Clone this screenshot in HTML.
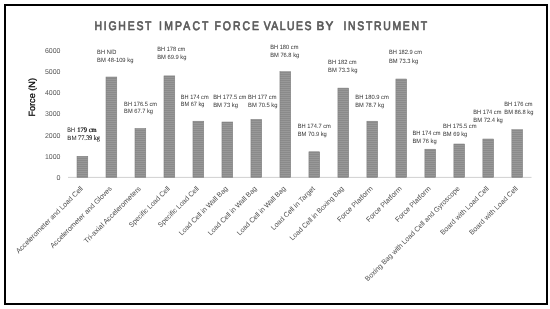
<!DOCTYPE html>
<html><head><meta charset="utf-8"><title>Highest impact force values by instrument</title>
<style>
html,body{margin:0;padding:0;background:#fff;}
body{width:550px;height:309px;overflow:hidden;}
svg{display:block;font-family:"Liberation Sans",sans-serif;text-rendering:geometricPrecision;}
.tk{font-size:7.1px;fill:#555;}
.dl{font-size:6.1px;fill:#333;}
.cl{font-size:7.15px;fill:#505050;}
</style></head><body>
<svg width="550" height="309" viewBox="0 0 550 309">
<defs>
<pattern id="st" x="0" y="0" width="4" height="2" patternUnits="userSpaceOnUse">
<rect x="0" y="0" width="4" height="2" fill="#989898"/>
<rect x="0" y="0" width="4" height="1" fill="#8a8a8a"/>
</pattern>
</defs>
<rect x="0" y="0" width="550" height="309" fill="#fff"/>
<rect x="5" y="5" width="542" height="299" fill="#fff" stroke="#000" stroke-width="2"/>
<g font-size="12.3" fill="#595959" stroke="#595959" stroke-width="0.7" stroke-linejoin="round">
<text transform="translate(94.4 29.65) scale(0.85 1)" textLength="67.2" lengthAdjust="spacing">HIGHEST</text>
<text transform="translate(159.1 29.65) scale(0.85 1)" textLength="58.1" lengthAdjust="spacing">IMPACT</text>
<text transform="translate(214.4 29.65) scale(0.85 1)" textLength="52.5" lengthAdjust="spacing">FORCE</text>
<text transform="translate(263.7 29.65) scale(0.85 1)" textLength="56.2" lengthAdjust="spacing">VALUES</text>
<text transform="translate(316.5 29.65) scale(0.95 1)" textLength="17.6" lengthAdjust="spacing">BY</text>
<text transform="translate(343.4 29.65) scale(0.85 1)" textLength="98.5" lengthAdjust="spacing">INSTRUMENT</text>
</g>
<text transform="translate(35.1 116.6) rotate(-90)" font-size="9" fill="#000" stroke="#000" stroke-width="0.25" textLength="38.6" lengthAdjust="spacingAndGlyphs">Force (N)</text>
<text class="tk" x="60.4" y="180.20" text-anchor="end">0</text>
<text class="tk" x="44.9" y="158.95" textLength="15.5" lengthAdjust="spacingAndGlyphs">1000</text>
<text class="tk" x="44.9" y="137.70" textLength="15.5" lengthAdjust="spacingAndGlyphs">2000</text>
<text class="tk" x="44.9" y="116.45" textLength="15.5" lengthAdjust="spacingAndGlyphs">3000</text>
<text class="tk" x="44.9" y="95.20" textLength="15.5" lengthAdjust="spacingAndGlyphs">4000</text>
<text class="tk" x="44.9" y="73.95" textLength="15.5" lengthAdjust="spacingAndGlyphs">5000</text>
<text class="tk" x="44.9" y="52.70" textLength="15.5" lengthAdjust="spacingAndGlyphs">6000</text>
<line x1="68" y1="177.4" x2="531.5" y2="177.4" stroke="#c4c4c4" stroke-width="0.8"/>
<rect x="77.00" y="156.3" width="10.8" height="21.1" fill="url(#st)" stroke="#787878" stroke-width="0.5"/>
<rect x="105.99" y="77.0" width="10.8" height="100.4" fill="url(#st)" stroke="#787878" stroke-width="0.5"/>
<rect x="134.98" y="128.5" width="10.8" height="48.9" fill="url(#st)" stroke="#787878" stroke-width="0.5"/>
<rect x="163.97" y="75.9" width="10.8" height="101.5" fill="url(#st)" stroke="#787878" stroke-width="0.5"/>
<rect x="192.96" y="121.2" width="10.8" height="56.2" fill="url(#st)" stroke="#787878" stroke-width="0.5"/>
<rect x="221.95" y="122.0" width="10.8" height="55.4" fill="url(#st)" stroke="#787878" stroke-width="0.5"/>
<rect x="250.94" y="119.4" width="10.8" height="58.0" fill="url(#st)" stroke="#787878" stroke-width="0.5"/>
<rect x="279.93" y="71.7" width="10.8" height="105.7" fill="url(#st)" stroke="#787878" stroke-width="0.5"/>
<rect x="308.92" y="151.8" width="10.8" height="25.6" fill="url(#st)" stroke="#787878" stroke-width="0.5"/>
<rect x="337.91" y="88.1" width="10.8" height="89.3" fill="url(#st)" stroke="#787878" stroke-width="0.5"/>
<rect x="366.90" y="121.2" width="10.8" height="56.2" fill="url(#st)" stroke="#787878" stroke-width="0.5"/>
<rect x="395.89" y="79.0" width="10.8" height="98.4" fill="url(#st)" stroke="#787878" stroke-width="0.5"/>
<rect x="424.88" y="149.2" width="10.8" height="28.2" fill="url(#st)" stroke="#787878" stroke-width="0.5"/>
<rect x="453.87" y="144.0" width="10.8" height="33.4" fill="url(#st)" stroke="#787878" stroke-width="0.5"/>
<rect x="482.86" y="139.0" width="10.8" height="38.4" fill="url(#st)" stroke="#787878" stroke-width="0.5"/>
<rect x="511.85" y="129.7" width="10.8" height="47.7" fill="url(#st)" stroke="#787878" stroke-width="0.5"/>
<text x="67.3" y="132.4" font-size="6.5" fill="#111" textLength="7.6" lengthAdjust="spacingAndGlyphs">BH</text>
<text x="77.3" y="132.4" font-family="'Liberation Serif',serif" font-size="6.9" fill="#000" stroke="#000" stroke-width="0.2" textLength="19.3" lengthAdjust="spacingAndGlyphs">179 cm</text>
<text x="67.3" y="140.0" font-size="6.3" fill="#1a1a1a" textLength="9.2" lengthAdjust="spacingAndGlyphs">BM</text>
<text x="78.1" y="140.0" font-family="'Liberation Serif',serif" font-size="7" fill="#111" stroke="#111" stroke-width="0.1" textLength="21.9" lengthAdjust="spacingAndGlyphs">77.39 kg</text>
<text class="dl" x="97.1" y="54.1" textLength="19.4" lengthAdjust="spacingAndGlyphs">BH N/D</text>
<text class="dl" x="97.1" y="61.9" textLength="36.3" lengthAdjust="spacingAndGlyphs">BM 48-109 kg</text>
<text class="dl" x="124.1" y="105.5" textLength="32.9" lengthAdjust="spacingAndGlyphs">BH 176.5 cm</text>
<text class="dl" x="124.1" y="113.4" textLength="28.8" lengthAdjust="spacingAndGlyphs">BM 67.7 kg</text>
<text class="dl" x="157.2" y="50.7" textLength="28.1" lengthAdjust="spacingAndGlyphs">BH 178 cm</text>
<text class="dl" x="157.2" y="58.6" textLength="29.3" lengthAdjust="spacingAndGlyphs">BM 69.9 kg</text>
<text class="dl" x="180.8" y="98.7" textLength="27.8" lengthAdjust="spacingAndGlyphs">BH 174 cm</text>
<text class="dl" x="180.8" y="106.3" textLength="23.5" lengthAdjust="spacingAndGlyphs">BM 67 kg</text>
<text class="dl" x="213.2" y="98.6" textLength="33.2" lengthAdjust="spacingAndGlyphs">BH 177.5 cm</text>
<text class="dl" x="213.2" y="106.6" textLength="24.8" lengthAdjust="spacingAndGlyphs">BM 73 kg</text>
<text class="dl" x="248.1" y="98.6" textLength="28.4" lengthAdjust="spacingAndGlyphs">BH 177 cm</text>
<text class="dl" x="248.1" y="106.6" textLength="29.4" lengthAdjust="spacingAndGlyphs">BM 70.5 kg</text>
<text class="dl" x="270.2" y="48.9" textLength="28.2" lengthAdjust="spacingAndGlyphs">BH 180 cm</text>
<text class="dl" x="270.2" y="57.1" textLength="29.0" lengthAdjust="spacingAndGlyphs">BM 76.8 kg</text>
<text class="dl" x="297.8" y="128.3" textLength="33.1" lengthAdjust="spacingAndGlyphs">BH 174.7 cm</text>
<text class="dl" x="297.8" y="136.1" textLength="29.0" lengthAdjust="spacingAndGlyphs">BM 70.9 kg</text>
<text class="dl" x="328.1" y="64.4" textLength="28.6" lengthAdjust="spacingAndGlyphs">BH 182 cm</text>
<text class="dl" x="328.1" y="72.0" textLength="29.4" lengthAdjust="spacingAndGlyphs">BM 73.3 kg</text>
<text class="dl" x="355.3" y="98.6" textLength="33.5" lengthAdjust="spacingAndGlyphs">BH 180.9 cm</text>
<text class="dl" x="355.3" y="106.6" textLength="28.8" lengthAdjust="spacingAndGlyphs">BM 78.7 kg</text>
<text class="dl" x="388.9" y="54.4" textLength="33.1" lengthAdjust="spacingAndGlyphs">BH 182.9 cm</text>
<text class="dl" x="388.9" y="62.6" textLength="29.3" lengthAdjust="spacingAndGlyphs">BM 73.3 kg</text>
<text class="dl" x="412.4" y="135.3" textLength="28.2" lengthAdjust="spacingAndGlyphs">BH 174 cm</text>
<text class="dl" x="412.4" y="142.8" textLength="24.2" lengthAdjust="spacingAndGlyphs">BM 76 kg</text>
<text class="dl" x="443.0" y="128.3" textLength="33.6" lengthAdjust="spacingAndGlyphs">BH 175.5 cm</text>
<text class="dl" x="443.0" y="135.6" textLength="24.3" lengthAdjust="spacingAndGlyphs">BM 69 kg</text>
<text class="dl" x="473.3" y="114.0" textLength="28.1" lengthAdjust="spacingAndGlyphs">BH 174 cm</text>
<text class="dl" x="473.3" y="122.0" textLength="29.5" lengthAdjust="spacingAndGlyphs">BM 72.4 kg</text>
<text class="dl" x="504.3" y="105.9" textLength="28.2" lengthAdjust="spacingAndGlyphs">BH 176 cm</text>
<text class="dl" x="504.3" y="114.0" textLength="29.1" lengthAdjust="spacingAndGlyphs">BM 86.8 kg</text>
<text class="cl" transform="translate(83.40 189.1) rotate(-45)" x="-91.4" y="0" textLength="91.4" lengthAdjust="spacingAndGlyphs">Accelerometer and Load Cell</text>
<text class="cl" transform="translate(112.39 189.1) rotate(-45)" x="-84.0" y="0" textLength="84.0" lengthAdjust="spacingAndGlyphs">Accelerometer and Gloves</text>
<text class="cl" transform="translate(141.38 189.1) rotate(-45)" x="-77.2" y="0" textLength="77.2" lengthAdjust="spacingAndGlyphs">Tri-axial Accelerometers</text>
<text class="cl" transform="translate(170.37 189.1) rotate(-45)" x="-54.7" y="0" textLength="54.7" lengthAdjust="spacingAndGlyphs">Specific Load Cell</text>
<text class="cl" transform="translate(199.36 189.1) rotate(-45)" x="-54.7" y="0" textLength="54.7" lengthAdjust="spacingAndGlyphs">Specific Load Cell</text>
<text class="cl" transform="translate(228.35 189.1) rotate(-45)" x="-66.0" y="0" textLength="66.0" lengthAdjust="spacingAndGlyphs">Load Cell in Wall Bag</text>
<text class="cl" transform="translate(257.34 189.1) rotate(-45)" x="-66.0" y="0" textLength="66.0" lengthAdjust="spacingAndGlyphs">Load Cell in Wall Bag</text>
<text class="cl" transform="translate(286.33 189.1) rotate(-45)" x="-66.0" y="0" textLength="66.0" lengthAdjust="spacingAndGlyphs">Load Cell in Wall Bag</text>
<text class="cl" transform="translate(315.32 189.1) rotate(-45)" x="-58.7" y="0" textLength="58.7" lengthAdjust="spacingAndGlyphs">Load Cell in Target</text>
<text class="cl" transform="translate(344.31 189.1) rotate(-45)" x="-73.1" y="0" textLength="73.1" lengthAdjust="spacingAndGlyphs">Load Cell in Boxing Bag</text>
<text class="cl" transform="translate(373.30 189.1) rotate(-45)" x="-47.2" y="0" textLength="47.2" lengthAdjust="spacingAndGlyphs">Force Platform</text>
<text class="cl" transform="translate(402.29 189.1) rotate(-45)" x="-47.2" y="0" textLength="47.2" lengthAdjust="spacingAndGlyphs">Force Platform</text>
<text class="cl" transform="translate(431.28 189.1) rotate(-45)" x="-47.2" y="0" textLength="47.2" lengthAdjust="spacingAndGlyphs">Force Platform</text>
<text class="cl" transform="translate(460.27 189.1) rotate(-45)" x="-130.7" y="0" textLength="130.7" lengthAdjust="spacingAndGlyphs">Boxing Bag with Load Cell and Gyroscope</text>
<text class="cl" transform="translate(489.26 189.1) rotate(-45)" x="-65.4" y="0" textLength="65.4" lengthAdjust="spacingAndGlyphs">Board with Load Cell</text>
<text class="cl" transform="translate(518.25 189.1) rotate(-45)" x="-65.4" y="0" textLength="65.4" lengthAdjust="spacingAndGlyphs">Board with Load Cell</text>
</svg>
</body></html>
